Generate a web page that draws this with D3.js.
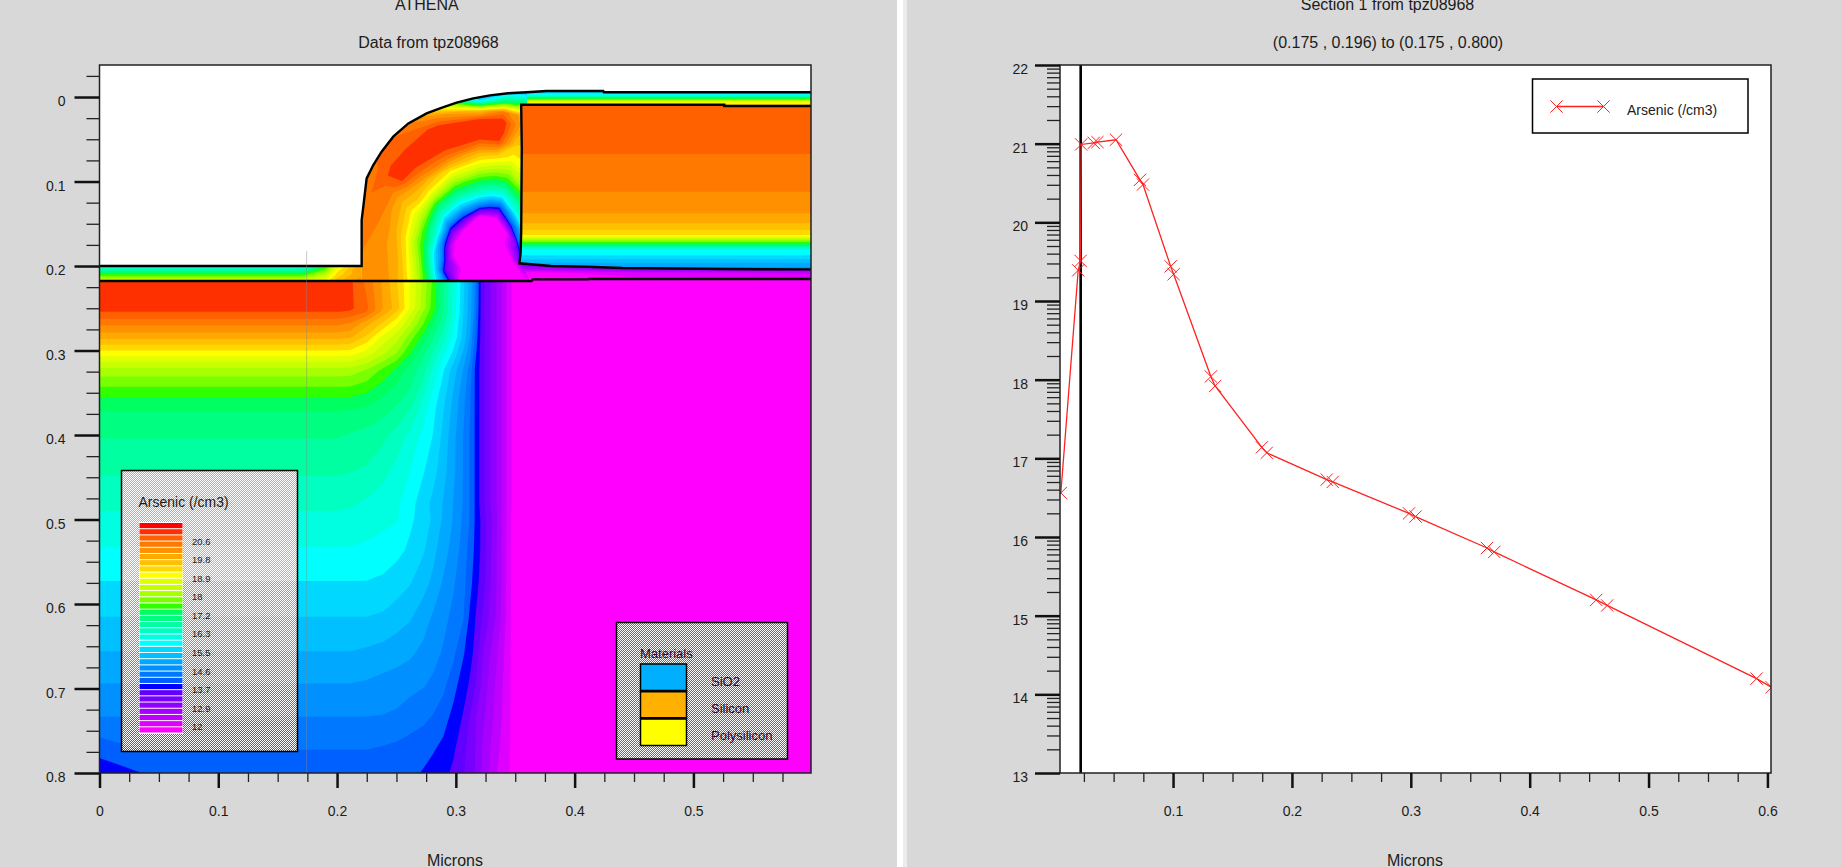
<!DOCTYPE html>
<html>
<head>
<meta charset="utf-8">
<script src="https://cdnjs.cloudflare.com/ajax/libs/d3/7.8.5/d3.min.js"></script>
<style>
  html, body { margin: 0; padding: 0; background: #d8d8d8; overflow: hidden; }
  text { font-family: "Liberation Sans", Arial, sans-serif; fill: #1c1c1c; }
  .axis path { display: none; }
  .axis text { font-size: 14px; }
  .major line { stroke: #111; stroke-width: 2.5; }
  .minor line { stroke: #222; stroke-width: 1.3; }
</style>
</head>
<body>
<svg width="1841" height="867"></svg>
<script>
// 34 colour rows of the legend, magenta (lowest) to red (highest)
const bandColors = ["#ff00ff","#e000ff","#c000ff","#a800ff","#9000ff","#7800ff","#6000ff","#0000ff",
  "#0060ff","#0078ff","#0090ff","#00a8ff","#00c0ff","#00d8ff","#00ffff","#00ffe0","#00ffc0","#00ffa0",
  "#00ff80","#00ff60","#30ff00","#78ff00","#a8ff00","#c8ff00","#e0ff00","#ffff00","#ffd800","#ffc000",
  "#ffa800","#ff9000","#ff7800","#ff6000","#ff3000","#ff0000"];
const legendLabels = ["20.6","19.8","18.9","18","17.2","16.3","15.5","14.6","13.7","12.9","12"];
const materials = ["SiO2","Silicon","Polysilicon"];
const materialColors = ["#00b0ff","#ffb000","#ffff00"];

// region outlines, microns
const surfaceLine = [[0,0.2],[0.2207,0.2],[0.2207,0.1456],[0.2221,0.1298],[0.2249,0.0963],[0.2305,0.0805],[0.2375,0.0647],
  [0.2473,0.0469],[0.26,0.0312],[0.2754,0.0193],[0.2866,0.0134],[0.3006,0.0067],[0.3147,0.0016],[0.3287,-0.002],[0.3441,-0.0044],
  [0.3596,-0.0056],[0.3764,-0.0071],[0.4241,-0.0071],[0.4247,-0.0056],[0.6,-0.0056]];
const gateLine = [[0.6,0.0107],[0.526,0.0107],[0.526,0.0091],[0.355,0.0091],[0.3555,0.06],[0.355,0.16],[0.3545,0.185],[0.3535,0.1968],
  [0.38,0.2],[0.41,0.2008],[0.44,0.2024],[0.525,0.2036],[0.6,0.204]];
const interfaceLine = [[0,0.2178],[0.3638,0.2178],[0.3648,0.2158],[0.4112,0.2158],[0.4122,0.2154],[0.6,0.2154]];

// silicon: log10 doping on a mesh
const siX = [0,0.035,0.2,0.2109,0.2249,0.2389,0.2502,0.2614,0.2726,0.281,0.2895,0.2979,0.3063,0.3119,0.3161,0.3217,0.3344,0.347,0.6];
const siY = [0.215,0.25,0.254,0.2678,0.2836,0.3033,0.323,0.3546,0.3704,0.402,0.4414,0.4808,0.5006,0.536,0.5756,0.617,0.6584,0.6967,0.7353,0.7748,0.8005];
const siValues = [
  [21.2,21.2,21.2,21.1,20.65,20.1,19.6,19.03,18.38,17.8,17.08,16.4,15.67,15.2,14.71,13.72,13.0,12.14,12],
  [21.15,21.15,21.15,21.1,20.8,20.15,19.75,19.0,18.3,17.7,17.0,16.35,15.6,15.15,14.65,13.72,13,12.14,12],
  [21.04,21.04,21.04,21.0,20.75,20.05,19.6,18.85,18.15,17.65,17.0,16.35,15.6,15.15,14.6,13.72,13,12.14,12],
  [20.55,20.55,20.55,20.45,20.0,19.55,19.1,18.5,17.9,17.35,16.85,16.2,15.55,15.1,14.5,13.72,13,12.14,12],
  [20.0,20.0,20.0,19.95,19.55,18.95,18.6,18.05,17.5,17.05,16.6,16.1,15.5,15.0,14.4,13.72,13,12.14,12],
  [19.17,19.17,19.17,19.15,18.9,18.5,18.15,17.6,17.1,16.7,16.25,15.8,15.25,14.8,14.25,13.72,13,12.14,12],
  [18.35,18.35,18.35,18.33,18.15,17.8,17.52,17.2,16.85,16.4,15.9,15.45,14.99,14.6,14.13,13.72,13,12.14,12],
  [17.6,17.6,17.6,17.6,17.5,17.3,17.12,16.95,16.45,16.05,15.68,15.25,14.82,14.47,14.13,13.72,13,12.14,12],
  [17.32,17.32,17.32,17.3,17.25,17.12,16.95,16.72,16.3,15.95,15.6,15.2,14.78,14.45,14.13,13.72,13,12.14,12],
  [17.03,17.03,17.03,16.98,16.9,16.78,16.62,16.35,16.08,15.85,15.5,15.1,14.72,14.42,14.13,13.72,13,12.14,12],
  [16.78,16.78,16.78,16.75,16.7,16.55,16.35,16.16,15.9,15.7,15.4,15.08,14.71,14.42,14.13,13.72,13,12.14,12],
  [16.5,16.5,16.5,16.48,16.4,16.28,16.22,15.98,15.72,15.5,15.28,15.0,14.7,14.42,14.13,13.72,13,12.14,12],
  [16.38,16.38,16.38,16.35,16.3,16.22,16.18,15.92,15.75,15.52,15.25,14.99,14.67,14.42,14.13,13.8,13.05,12.1,12],
  [16.13,16.13,16.13,16.13,16.1,16.05,15.95,15.82,15.62,15.38,15.13,14.9,14.6,14.32,14.1,13.8,13.0,12.1,12],
  [15.85,15.85,15.85,15.85,15.85,15.8,15.72,15.6,15.4,15.22,14.97,14.76,14.52,14.25,14.0,13.75,13,12.1,12],
  [15.57,15.57,15.57,15.57,15.57,15.53,15.43,15.32,15.14,14.96,14.8,14.65,14.45,14.08,13.88,13.6,12.95,12.1,12],
  [15.28,15.28,15.28,15.28,15.24,15.18,15.12,15.06,14.93,14.82,14.69,14.5,14.18,13.95,13.8,13.35,12.75,12.1,12],
  [14.99,14.99,14.99,14.99,14.96,14.9,14.87,14.8,14.74,14.66,14.5,14.26,13.98,13.82,13.6,13.25,12.65,12.1,12],
  [14.71,14.71,14.71,14.71,14.71,14.7,14.66,14.58,14.5,14.4,14.27,14.05,13.83,13.55,13.33,13.1,12.6,12.1,12],
  [14.23,14.42,14.42,14.42,14.42,14.38,14.34,14.28,14.22,14.16,14.05,13.9,13.65,13.45,13.3,13.0,12.5,12.1,12],
  [13.95,14.14,14.25,14.25,14.25,14.25,14.23,14.2,14.13,14.05,13.95,13.8,13.6,13.43,13.29,13.0,12.43,12.1,12]
];

// poly gate: bands are level, two columns are enough
const polyX = [0.35,0.6];
const polyY = [0.008,0.0686,0.112,0.1377,0.1495,0.1574,0.1633,0.1732,0.181,0.189,0.196,0.205];
const polyValues = [20.95,20.74,20.46,20.17,19.88,19.6,19.31,17.6,16.14,15.8,15.3,14.8].map(v => [v,v]);

// oxide above the gate
const capX = [0.345,0.6];
const capY = [-0.0085,-0.0056,-0.0024,0.0016,0.0055,0.0107];
const capValues = [[15.4,15.4],[15.6,15.6],[16.2,16.2],[17.5,17.5],[18.9,18.9],[19.8,19.8]];

// thin oxide left of the spacer
const thinX = [0,0.17,0.19,0.2,0.215,0.23];
const thinY = [0.2,0.205,0.21,0.2178];
const thinValues = [
  [16.2,16.2,17.5,18.8,19.8,20.2],
  [16.9,16.9,18.0,19.2,20.0,20.3],
  [17.7,17.7,18.5,19.4,20.0,20.3],
  [18.7,18.7,19.1,19.8,20.2,20.4]
];

// oxide under the gate
const padX = [0.35,0.45,0.6];
const padY = [0.196,0.204,0.208,0.2178];
const padValues = [[13.6,13.2,13.2],[12.6,13.2,13.2],[12,12.3,12.5],[12,12,12]];

// spacer: read along rays from one centre, angle in degrees, radius in x-microns
const spacerCentre = [0.3203,0.2166];
const spacerRays = [0,30,60,75,82,90,105,120,128,135,150,165,180];
const spacerRadii = [0,0.0168,0.0308,0.0378,0.0447,0.0531,0.0629,0.0727,0.0839,0.0951,0.1063,0.1174,0.1258,0.1342,0.1426,0.151,0.1678];
const spacerValues = [
  [12,12,12,12,12,12,12,12,12,12,12,12,12,12,12,12,12],
  [12,12,12,13.5,16,17,18,18.5,18.5,18.5,18.5,18.5,18.5,18.5,18.5,18.5,18.5],
  [12,12,12,12,12,14.2,16.2,17.3,18.4,19.2,19.5,19.5,19.5,19.5,19.5,19.5,19.5],
  [12,12,12,12,12,12,14.1,16.0,17.4,18.4,19.2,19.6,19.9,20.1,20.0,18,14.5],
  [12,12,12,12,12,12,14.3,16.1,17.4,18.5,19.6,21.0,21.3,21.3,20.6,17.5,13.5],
  [12,12,12,12,12,12,14.7,16.4,17.6,18.75,19.8,21.0,21.3,21.3,19.7,15.9,13],
  [12,12,12,12,12,13.8,15.5,16.8,18.1,19.3,20.6,21.3,21.3,21.1,20.3,19,17],
  [12,12,12,12,13.0,14.7,16.3,17.5,19.1,20.0,20.95,21.3,21.05,20.85,20.7,20.6,20.6],
  [12,12,12,12.3,14,15.8,17,18.2,19.5,20.05,21.05,21.2,20.9,20.8,20.7,20.6,20.6],
  [12,12,12,13.2,14.7,16.4,17.55,18.6,19.45,20.0,20.6,20.85,20.7,20.6,20.6,20.6,20.6],
  [12,12,13.2,14.9,15.85,17.35,18.35,19.35,20.05,20.4,20.6,20.6,20.6,20.6,20.6,20.6,20.6],
  [12,12,13.8,15.5,17.0,18.2,19.2,20.0,20.25,20.4,20.5,20.5,20.5,20.5,20.5,20.5,20.5],
  [12,12,14.9,16.1,17.5,18.5,19.5,20.1,20.3,20.4,20.5,20.5,20.5,20.5,20.5,20.5,20.5]
];

// section through x = 0.175
const sectionX = [0.0056,0.0202,0.0222,0.0227,0.0333,0.0364,0.052,0.0722,0.0747,0.098,0.1005,0.1318,0.1354,0.1747,0.1788,
  0.2293,0.2343,0.2985,0.304,0.3641,0.3702,0.456,0.4652,0.5909,0.6035];
const sectionY = [16.56,19.39,19.51,20.99,21.01,21.02,21.05,20.54,20.48,19.44,19.34,18.04,17.92,17.14,17.07,
  16.73,16.7,16.3,16.26,15.86,15.81,15.2,15.13,14.2,14.09];
const interfaceDepth = 0.0223;

const svg = d3.select("svg");

// the stipple on both legends
const stipple = svg.append("defs").append("pattern")
  .attr("id", "stipple").attr("width", 2).attr("height", 2).attr("patternUnits", "userSpaceOnUse");
stipple.append("rect").attr("width", 1).attr("height", 1).attr("fill", "#fff");
stipple.append("rect").attr("x", 1).attr("y", 1).attr("width", 1).attr("height", 1).attr("fill", "#fff");

// white gutter between the panels
svg.append("rect").attr("x", 897).attr("y", 0).attr("width", 6).attr("height", 867).attr("fill", "#fff");
svg.append("rect").attr("x", 903).attr("y", 0).attr("width", 4).attr("height", 867).attr("fill", "#ececec");

// ---- left panel ----
const x1 = d3.scaleLinear().domain([0, 0.599]).range([99.5, 811]);
const y1 = d3.scaleLinear().domain([-0.0379, 0.8]).range([65, 773]);
const line1 = d3.line().x(d => x1(d[0])).y(d => y1(d[1]));

const defs = svg.select("defs");
defs.append("clipPath").attr("id", "plot1").append("rect")
  .attr("x", 99.5).attr("y", 65).attr("width", 711.5).attr("height", 708);

function clip(id, pts) {
  defs.append("clipPath").attr("id", id).append("path").attr("d", line1(pts) + "Z");
  return "url(#" + id + ")";
}

const thresholds = bandColors.map((c, i) => i == 0 ? -1 : 12 + (i - 0.5) * 0.2867);
const plot1 = svg.append("g").attr("clip-path", "url(#plot1)");
plot1.append("rect").attr("x", 99.5).attr("y", 65).attr("width", 711.5).attr("height", 708).attr("fill", "#fff");

function bands(values, toPoint, clipUrl) {
  const rows = values.length, cols = values[0].length;
  const contours = d3.contours().size([cols, rows]).thresholds(thresholds)(values.flat());
  const path = d3.geoPath(d3.geoTransform({
    point(i, j) {
      const p = toPoint(i, j);
      this.stream.point(p[0], p[1]);
    }
  }));
  plot1.append("g").attr("clip-path", clipUrl)
    .selectAll("path")
    .data(contours)
    .enter()
    .append("path")
    .attr("d", path)
    .attr("fill", (d, i) => bandColors[i]);
}

function meshField(xs, ys, values, clipUrl) {
  const ix = d3.scaleLinear().domain(xs.map((d, i) => i + 0.5)).range(xs).clamp(true);
  const iy = d3.scaleLinear().domain(ys.map((d, i) => i + 0.5)).range(ys).clamp(true);
  bands(values, (i, j) => [x1(ix(i)), y1(iy(j))], clipUrl);
}

// aspect of the plot, so that rays are true angles on screen
const aspect = (x1(1) - x1(0)) / (y1(1) - y1(0));
function polarField(centre, rays, radii, values, clipUrl) {
  const ia = d3.scaleLinear().domain(rays.map((d, i) => i + 0.5)).range(rays).clamp(true);
  const ir = d3.scaleLinear().domain(radii.map((d, i) => i + 0.5)).range(radii).clamp(true);
  bands(values, (i, j) => {
    const a = ia(j) * Math.PI / 180, r = ir(i);
    return [x1(centre[0] + r * Math.cos(a)), y1(centre[1] - r * Math.sin(a) * aspect)];
  }, clipUrl);
}

const siClip = clip("si", interfaceLine.concat([[0.6,0.8],[0,0.8]]));
const polyClip = clip("poly", gateLine);
const gateTopRight = [[0.355,0.0091],[0.526,0.0091],[0.526,0.0107],[0.6,0.0107]];
const capClip = clip("cap", surfaceLine.filter(d => d[0] >= 0.3596).concat(gateTopRight.slice().reverse(), [[0.3596,0.0091]]));
const thinClip = clip("thin", [[0,0.2],[0.2207,0.2],[0.2207,0.2178],[0,0.2178]]);
const padClip = clip("pad", gateLine.slice(7).concat(interfaceLine.slice(1).reverse()));
const spacerClip = clip("spacer", surfaceLine.slice(1, 16).concat([[0.3596,0.0091]], gateLine.slice(3, 8), [[0.3638,0.2178],[0.2207,0.2178]]));

meshField(siX, siY, siValues, siClip);
meshField(polyX, polyY, polyValues, polyClip);
meshField(capX, capY, capValues, capClip);
meshField(thinX, thinY, thinValues, thinClip);
meshField(padX, padY, padValues, padClip);
polarField(spacerCentre, spacerRays, spacerRadii, spacerValues, spacerClip);

// material outlines
[surfaceLine, gateLine, interfaceLine].forEach(pts => {
  plot1.append("path").attr("d", line1(pts)).attr("fill", "none").attr("stroke", "#000").attr("stroke-width", 2.4);
});

// cut line of the section
plot1.append("line").attr("x1", x1(0.1744)).attr("x2", x1(0.1744)).attr("y1", 251).attr("y2", 773)
  .attr("stroke", "#888").attr("stroke-opacity", 0.45).attr("stroke-width", 1);

// band legend
const lg = svg.append("g");
lg.append("rect").attr("x", 121.5).attr("y", 470.5).attr("width", 176).attr("height", 281)
  .attr("fill", "url(#stipple)").attr("stroke", "#000").attr("stroke-width", 1.5);
lg.append("text").attr("x", 138.5).attr("y", 506.5).style("font-size", "14px").text("Arsenic (/cm3)");
const barY = d3.scaleBand().domain(d3.range(34)).range([523, 733.5]);
lg.append("rect").attr("x", 139).attr("y", 522).attr("width", 44).attr("height", 212).attr("fill", "#fff");
lg.selectAll("rect.bar").data(bandColors.slice().reverse()).enter().append("rect")
  .attr("class", "bar").attr("x", 139.5).attr("width", 43)
  .attr("y", (d, i) => barY(i)).attr("height", barY.bandwidth() - 1)
  .attr("fill", d => d);
lg.selectAll("text.lab").data(legendLabels).enter().append("text")
  .attr("class", "lab").attr("x", 192).attr("y", (d, i) => barY(3 + 3 * i) + 3)
  .style("font-size", "9.5px").text(d => d);

// materials legend
const ml = svg.append("g");
ml.append("rect").attr("x", 616.5).attr("y", 622.5).attr("width", 171).attr("height", 136.5)
  .attr("fill", "url(#stipple)").attr("stroke", "#000").attr("stroke-width", 1.5);
ml.append("text").attr("x", 640).attr("y", 658).style("fill", "#300030").style("font-size", "13px").text("Materials");
const swatchY = d3.scaleBand().domain(materials).range([664, 745.5]);
ml.selectAll("rect.sw").data(materials).enter().append("rect")
  .attr("class", "sw").attr("x", 640.5).attr("width", 46).attr("y", d => swatchY(d)).attr("height", swatchY.bandwidth())
  .attr("fill", (d, i) => materialColors[i]).attr("stroke", "#000").attr("stroke-width", 1.5);
ml.selectAll("line").data(materials.slice(1)).enter().append("line")
  .attr("x1", 640.5).attr("x2", 686.5).attr("y1", d => swatchY(d)).attr("y2", d => swatchY(d))
  .attr("stroke", "#000").attr("stroke-width", 2.6);
ml.selectAll("text.mat").data(materials).enter().append("text")
  .attr("class", "mat").attr("x", 711).attr("y", d => swatchY(d) + 21.5)
  .style("fill", "#300030").style("font-size", "13px").text(d => d);

svg.append("rect").attr("x", 99.5).attr("y", 65).attr("width", 711.5).attr("height", 708)
  .attr("fill", "none").attr("stroke", "#222").attr("stroke-width", 1.5);

function axes(g, x, y, xMajor, xMinor, yMajor, yMinor, h, left, labelGap) {
  const fmt = d => String(d);
  const ax = g.append("g").attr("transform", "translate(0," + h + ")");
  ax.append("g").attr("class", "axis minor").call(d3.axisBottom(x).tickValues(xMinor).tickSize(9).tickFormat(""));
  ax.append("g").attr("class", "axis major").call(d3.axisBottom(x).tickValues(xMajor).tickSize(15).tickPadding(18).tickFormat(fmt));
  const ay = g.append("g").attr("transform", "translate(" + left + ",0)");
  ay.append("g").attr("class", "axis minor").call(d3.axisLeft(y).tickValues(yMinor).tickSize(13).tickFormat(""));
  ay.append("g").attr("class", "axis major").call(d3.axisLeft(y).tickValues(yMajor).tickSize(25).tickPadding(labelGap).tickFormat(fmt))
    .selectAll("text").attr("dy", "8.5");
}

axes(svg.append("g"), x1, y1,
  [0,0.1,0.2,0.3,0.4,0.5],
  [0.025,0.05,0.075,0.125,0.15,0.175,0.225,0.25,0.275,0.325,0.35,0.375,0.425,0.45,0.475,0.525,0.55,0.575],
  [0,0.1,0.2,0.3,0.4,0.5,0.6,0.7,0.8],
  [-0.025,0.025,0.05,0.075,0.125,0.15,0.175,0.225,0.25,0.275,0.325,0.35,0.375,0.425,0.45,0.475,0.525,0.55,0.575,0.625,0.65,0.675,0.725,0.75,0.775],
  773, 99.5, 9);

// ---- right panel ----
const x2 = d3.scaleLinear().domain([0.0049, 0.603]).range([1060, 1771]);
const y2 = d3.scaleLinear().domain([13, 22]).range([773, 65]);

const yMajor2 = d3.range(13, 23);
const yMinor2 = d3.range(13, 22).flatMap(n => d3.range(2, 10).map(k => n + Math.log10(k)));

defs.append("clipPath").attr("id", "plot2").append("rect")
  .attr("x", 1060).attr("y", 65).attr("width", 711).attr("height", 708);
svg.append("rect").attr("x", 1060).attr("y", 65).attr("width", 711).attr("height", 708).attr("fill", "#fff");

const plot2 = svg.append("g").attr("clip-path", "url(#plot2)");
plot2.append("line").attr("x1", x2(interfaceDepth)).attr("x2", x2(interfaceDepth)).attr("y1", 65).attr("y2", 773)
  .attr("stroke", "#000").attr("stroke-width", 2.6);

const sectionPoints = sectionX.map((d, i) => [d, sectionY[i]]);
const red = "#ff2020";
plot2.append("path").datum(sectionPoints)
  .attr("d", d3.line().x(d => x2(d[0])).y(d => y2(d[1])))
  .attr("fill", "none").attr("stroke", red).attr("stroke-width", 1.3);
const cross = d3.symbol().type(d3.symbolX).size(100);
plot2.selectAll("path.pt").data(sectionPoints).enter().append("path")
  .attr("class", "pt").attr("d", cross)
  .attr("transform", d => "translate(" + x2(d[0]) + "," + y2(d[1]) + ")")
  .attr("fill", "none").attr("stroke", red).attr("stroke-width", 1);

const lg2 = svg.append("g");
lg2.append("rect").attr("x", 1532.5).attr("y", 79).attr("width", 215.5).attr("height", 54)
  .attr("fill", "#fff").attr("stroke", "#000").attr("stroke-width", 1.5);
lg2.append("line").attr("x1", 1556.5).attr("x2", 1603.5).attr("y1", 106.5).attr("y2", 106.5)
  .attr("stroke", red).attr("stroke-width", 1.3);
lg2.selectAll("path").data([1556.5, 1603.5]).enter().append("path").attr("d", cross)
  .attr("transform", d => "translate(" + d + ",106.5)")
  .attr("fill", "none").attr("stroke", red).attr("stroke-width", 1);
lg2.append("text").attr("x", 1627).attr("y", 115).style("font-size", "14px").text("Arsenic (/cm3)");

svg.append("rect").attr("x", 1060).attr("y", 65).attr("width", 711).attr("height", 708)
  .attr("fill", "none").attr("stroke", "#222").attr("stroke-width", 1.5);

axes(svg.append("g"), x2, y2,
  [0.1,0.2,0.3,0.4,0.5,0.6],
  [0.025,0.05,0.075,0.125,0.15,0.175,0.225,0.25,0.275,0.325,0.35,0.375,0.425,0.45,0.475,0.525,0.55,0.575],
  yMajor2, yMinor2, 773, 1060, 7);

// ---- titles ----
const titles = [
  ["ATHENA", 426.8, 10], ["Data from tpz08968", 428.5, 48], ["Microns", 455, 866],
  ["Section 1 from tpz08968", 1387.5, 10], ["(0.175 , 0.196) to (0.175 , 0.800)", 1388, 48], ["Microns", 1415, 866]
];
svg.selectAll("text.title").data(titles).enter().append("text")
  .attr("class", "title").attr("x", d => d[1]).attr("y", d => d[2])
  .attr("text-anchor", "middle").style("font-size", "16px").text(d => d[0]);
</script>
</body>
</html>
